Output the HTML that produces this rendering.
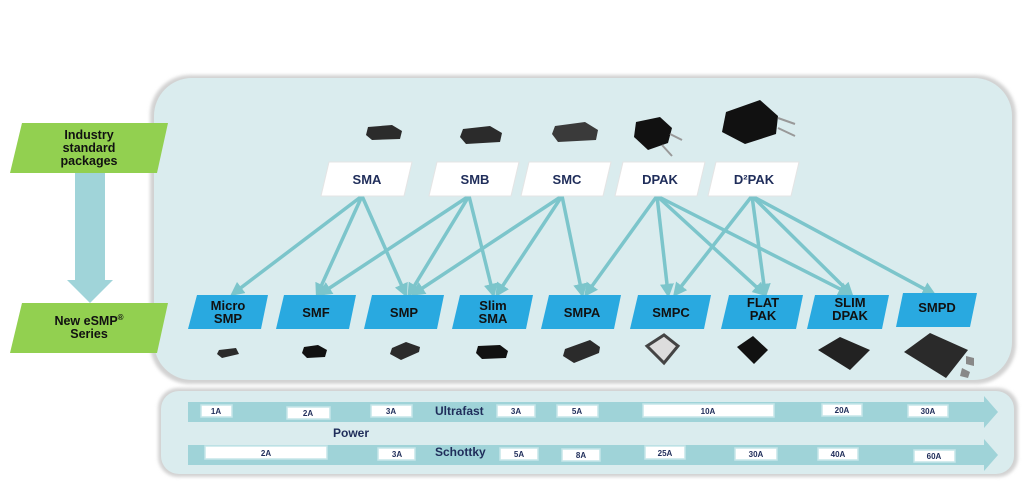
<!DOCTYPE html>
<html><head><meta charset="utf-8"><style>
html,body{margin:0;padding:0;background:#fff;width:1030px;height:501px;overflow:hidden}
svg text{font-family:"Liberation Sans",Arial,sans-serif;font-weight:bold}
</style></head><body>
<svg width="1030" height="501" viewBox="0 0 1030 501" xmlns="http://www.w3.org/2000/svg">
<defs>
<marker id="ah" markerWidth="4" markerHeight="4" refX="2.6" refY="2" orient="auto" markerUnits="strokeWidth">
<path d="M0,0 L4,2 L0,4 Z" fill="#7cc5cb"/></marker>
<filter id="sh" x="-5%" y="-5%" width="110%" height="110%"><feGaussianBlur stdDeviation="1.5"/></filter>
</defs>
<!-- main panel -->
<rect x="150" y="75" width="866" height="309" rx="40" fill="#d2d2d2" filter="url(#sh)"/>
<rect x="154" y="78" width="858" height="302" rx="38" fill="#daecee"/>
<!-- bottom panel -->
<rect x="158" y="388" width="860" height="89" rx="20" fill="#d2d2d2" filter="url(#sh)"/>
<rect x="161" y="391" width="853" height="83" rx="18" fill="#daecee"/>

<!-- left column -->
<rect x="75" y="172" width="30" height="110" fill="#a0d4d9"/>
<path d="M67,280 L113,280 L90,303 Z" fill="#a0d4d9"/>
<path d="M22,123 L168,123 L157,173 L10,173 Z" fill="#92d050"/>
<text x="89" y="139" font-size="12.5" text-anchor="middle" fill="#111">Industry</text>
<text x="89" y="152" font-size="12.5" text-anchor="middle" fill="#111">standard</text>
<text x="89" y="165" font-size="12.5" text-anchor="middle" fill="#111">packages</text>
<path d="M22,303 L168,303 L157,353 L10,353 Z" fill="#92d050"/>
<text x="89" y="325" font-size="12.5" text-anchor="middle" fill="#111">New eSMP<tspan font-size="8" dy="-5">®</tspan></text>
<text x="89" y="338" font-size="12.5" text-anchor="middle" fill="#111">Series</text>

<!-- connectors -->
<g stroke="#7cc5cb" stroke-width="3.5" fill="none" marker-end="url(#ah)">
<line x1="362" y1="196" x2="234" y2="293"/>
<line x1="362" y1="196" x2="318" y2="293"/>
<line x1="362" y1="196" x2="405" y2="293"/>
<line x1="469" y1="196" x2="322" y2="293"/>
<line x1="469" y1="196" x2="410" y2="293"/>
<line x1="469" y1="196" x2="493" y2="293"/>
<line x1="562" y1="196" x2="415" y2="293"/>
<line x1="562" y1="196" x2="498" y2="293"/>
<line x1="562" y1="196" x2="582" y2="293"/>
<line x1="657" y1="196" x2="587" y2="293"/>
<line x1="657" y1="196" x2="668" y2="293"/>
<line x1="657" y1="196" x2="763" y2="293"/>
<line x1="657" y1="196" x2="848" y2="293"/>
<line x1="752" y1="196" x2="676" y2="293"/>
<line x1="752" y1="196" x2="765" y2="293"/>
<line x1="752" y1="196" x2="850" y2="293"/>
<line x1="752" y1="196" x2="932" y2="293"/>
</g>

<!-- top white boxes -->
<g fill="#fff" stroke="#e4e4e4" stroke-width="1">
<path d="M329,162 L412,162 L404,196 L321,196 Z"/>
<path d="M437,162 L519,162 L511,196 L429,196 Z"/>
<path d="M529,162 L611,162 L603,196 L521,196 Z"/>
<path d="M623,162 L705,162 L697,196 L615,196 Z"/>
<path d="M716,162 L799,162 L791,196 L708,196 Z"/>
</g>
<g font-size="13" fill="#1f2d5a" text-anchor="middle">
<text x="367" y="184">SMA</text>
<text x="475" y="184">SMB</text>
<text x="567" y="184">SMC</text>
<text x="660" y="184">DPAK</text>
<text x="754" y="184">D²PAK</text>
</g>

<!-- blue boxes -->
<g fill="#29a9e0">
<path d="M197,295 L268,295 L261,329 L188,329 Z"/>
<path d="M284,295 L356,295 L349,329 L276,329 Z"/>
<path d="M372,295 L444,295 L437,329 L364,329 Z"/>
<path d="M460,295 L533,295 L526,329 L452,329 Z"/>
<path d="M549,295 L621,295 L614,329 L541,329 Z"/>
<path d="M638,295 L711,295 L704,329 L630,329 Z"/>
<path d="M729,295 L803,295 L796,329 L721,329 Z"/>
<path d="M815,295 L889,295 L882,329 L807,329 Z"/>
<path d="M903,293 L977,293 L970,327 L896,327 Z"/>
</g>
<g font-size="13" fill="#111" text-anchor="middle">
<text x="228" y="310">Micro</text><text x="228" y="323">SMP</text>
<text x="316" y="317">SMF</text>
<text x="404" y="317">SMP</text>
<text x="493" y="310">Slim</text><text x="493" y="323">SMA</text>
<text x="582" y="317">SMPA</text>
<text x="671" y="317">SMPC</text>
<text x="763" y="307">FLAT</text><text x="763" y="320">PAK</text>
<text x="850" y="307">SLIM</text><text x="850" y="320">DPAK</text>
<text x="937" y="312">SMPD</text>
</g>

<!-- package images top -->
<g fill="#2b2b2b">
<path d="M368,127 L392,125 L402,131 L400,139 L372,140 L366,135 Z"/>
<path d="M463,129 L490,126 L502,133 L500,142 L466,144 L460,137 Z"/>
<path d="M555,126 L585,122 L598,130 L596,140 L558,142 L552,134 Z" fill="#3a3a3a"/>
<path d="M636,122 L660,117 L672,128 L668,143 L648,150 L634,137 Z" fill="#111"/>
<path d="M670,134 L682,140 M662,145 L672,156" stroke="#999" stroke-width="2"/>
<path d="M726,112 L760,100 L778,116 L776,134 L745,144 L722,132 Z" fill="#111"/>
<path d="M778,118 L795,124 M778,128 L795,136" stroke="#999" stroke-width="2"/>
</g>
<!-- package images bottom -->
<g fill="#2b2b2b">
<path d="M219,350 L236,348 L239,354 L222,358 L217,354 Z"/>
<path d="M304,347 L318,345 L327,350 L325,357 L307,358 L302,353 Z" fill="#111"/>
<path d="M392,348 L406,342 L420,347 L419,352 L401,360 L390,354 Z"/>
<path d="M478,346 L500,345 L508,351 L506,358 L482,359 L476,353 Z" fill="#111"/>
<path d="M565,349 L590,340 L600,347 L599,353 L574,363 L563,356 Z"/>
<path d="M647,346 L664,335 L678,346 L664,363 Z" fill="#ddd" stroke="#444" stroke-width="3"/>
<path d="M737,347 L753,336 L768,350 L754,364 Z" fill="#111"/>
<path d="M818,350 L840,337 L870,350 L850,370 Z" fill="#222"/>
<path d="M904,352 L930,333 L968,350 L946,378 Z" fill="#2a2a2a"/>
<path d="M966,356 L974,358 L974,366 L966,364 Z M962,368 L970,372 L968,378 L960,376 Z" fill="#888"/>
</g>

<!-- bottom arrows -->
<path d="M188,402 L984,402 L984,396 L998,412 L984,428 L984,422 L188,422 Z" fill="#9fd3d8"/>
<path d="M188,445 L984,445 L984,439 L998,455 L984,471 L984,465 L188,465 Z" fill="#9fd3d8"/>
<g fill="#fff" stroke="#c6e6e9" stroke-width="1.5">
<rect x="201" y="405" width="31" height="12"/>
<rect x="287" y="407" width="43" height="12"/>
<rect x="371" y="405" width="41" height="12"/>
<rect x="497" y="405" width="38" height="12"/>
<rect x="557" y="405" width="41" height="12"/>
<rect x="643" y="404" width="131" height="13"/>
<rect x="822" y="404" width="40" height="12"/>
<rect x="908" y="405" width="40" height="12"/>
<rect x="205" y="446" width="122" height="13"/>
<rect x="378" y="448" width="37" height="12"/>
<rect x="500" y="448" width="38" height="12"/>
<rect x="562" y="449" width="38" height="12"/>
<rect x="645" y="446" width="40" height="13"/>
<rect x="735" y="448" width="42" height="12"/>
<rect x="818" y="448" width="40" height="12"/>
<rect x="914" y="450" width="41" height="12"/>
</g>
<g font-size="8" fill="#1f2d5a" text-anchor="middle">
<text x="216" y="414">1A</text><text x="308" y="416">2A</text><text x="391" y="414">3A</text>
<text x="516" y="414">3A</text><text x="577" y="414">5A</text><text x="708" y="414">10A</text>
<text x="842" y="413">20A</text><text x="928" y="414">30A</text>
<text x="266" y="456">2A</text><text x="397" y="457">3A</text><text x="519" y="457">5A</text>
<text x="581" y="458">8A</text><text x="665" y="456">25A</text><text x="756" y="457">30A</text>
<text x="838" y="457">40A</text><text x="934" y="459">60A</text>
</g>
<g font-size="12" fill="#1f2d5a">
<text x="435" y="415">Ultrafast</text>
<text x="333" y="437">Power</text>
<text x="435" y="456">Schottky</text>
</g>
</svg>
</body></html>
